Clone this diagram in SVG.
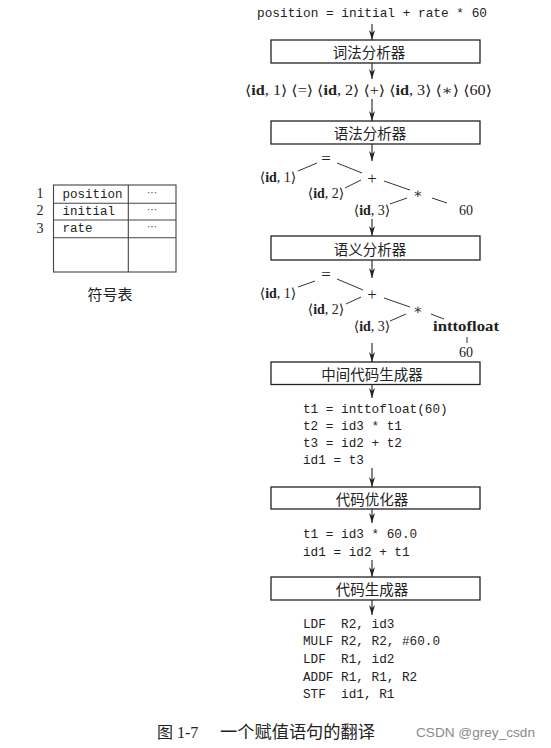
<svg xmlns="http://www.w3.org/2000/svg" width="551" height="748" viewBox="0 0 551 748">
<style>
.bg{fill:#fff}
.box rect{fill:#fff;stroke:#222;stroke-width:1.3}
.cn{font-family:"Noto Sans CJK SC",sans-serif;font-size:14.5px;fill:#222;text-anchor:middle;dominant-baseline:central}
.mono{font-family:"Liberation Mono","DejaVu Sans Mono",monospace;font-size:12.7px;fill:#222;white-space:pre}
.ser{font-family:"Liberation Serif","DejaVu Serif",serif;font-size:14px;fill:#222}
.op{font-size:17px}
.tn{text-anchor:middle}
.b{font-weight:bold}
.conn line{stroke:#222;stroke-width:1.1}
.tree line{stroke:#333;stroke-width:1}
.tab line,.tab rect{stroke:#444;stroke-width:1.1;fill:none}
</style>
<defs>
<marker id="ah" viewBox="0 0 10 6" refX="10" refY="3" markerWidth="10" markerHeight="6" markerUnits="userSpaceOnUse" orient="auto">
<path d="M0,0 L10,3 L0,6 L3,3 Z" fill="#222"/>
</marker>
</defs>
<rect class="bg" x="0" y="0" width="551" height="748"/>

<text id="source" class="mono" x="257" y="17" textLength="230" lengthAdjust="spacingAndGlyphs">position = initial + rate * 60</text>

<g id="lexer" class="box"><rect x="271" y="40" width="209" height="23"/><text class="cn" x="369" y="51.5">词法分析器</text></g>

<text id="tokens" class="ser" x="245" y="95" textLength="247" lengthAdjust="spacingAndGlyphs">⟨<tspan class="b">id</tspan>, 1⟩ ⟨=⟩ ⟨<tspan class="b">id</tspan>, 2⟩ ⟨+⟩ ⟨<tspan class="b">id</tspan>, 3⟩ ⟨∗⟩ ⟨60⟩</text>

<g id="parser" class="box"><rect x="271" y="121" width="209" height="23"/><text class="cn" x="370" y="132.5">语法分析器</text></g>

<g id="tree1" class="tree">
<text class="ser op tn" x="326" y="164">=</text>
<text class="ser tn" x="278" y="182">⟨<tspan class="b">id</tspan>, 1⟩</text>
<text class="ser op tn" x="372" y="184">+</text>
<text class="ser tn" x="326" y="198">⟨<tspan class="b">id</tspan>, 2⟩</text>
<text class="ser tn" x="418" y="198">∗</text>
<text class="ser tn" x="372" y="215">⟨<tspan class="b">id</tspan>, 3⟩</text>
<text class="ser tn" x="466" y="215">60</text>
<line x1="298" y1="171" x2="317" y2="163"/>
<line x1="337" y1="163" x2="362" y2="173"/>
<line x1="361" y1="180" x2="345" y2="188"/>
<line x1="384" y1="181" x2="410" y2="190"/>
<line x1="407" y1="198" x2="390" y2="204"/>
<line x1="432" y1="198" x2="447" y2="203"/>
</g>

<g id="semantic" class="box"><rect x="271" y="236" width="209" height="24"/><text class="cn" x="370" y="248">语义分析器</text></g>

<g id="tree2" class="tree">
<text class="ser op tn" x="326" y="280">=</text>
<text class="ser tn" x="278" y="298">⟨<tspan class="b">id</tspan>, 1⟩</text>
<text class="ser op tn" x="372" y="300">+</text>
<text class="ser tn" x="326" y="314">⟨<tspan class="b">id</tspan>, 2⟩</text>
<text class="ser tn" x="418" y="314">∗</text>
<text class="ser tn" x="372" y="331">⟨<tspan class="b">id</tspan>, 3⟩</text>
<text class="ser b" x="433" y="331" textLength="66" lengthAdjust="spacingAndGlyphs">inttofloat</text>
<text class="ser tn" x="466" y="357">60</text>
<line x1="298" y1="287" x2="315" y2="281"/>
<line x1="337" y1="279" x2="363" y2="290"/>
<line x1="361" y1="297" x2="346" y2="304"/>
<line x1="384" y1="298" x2="410" y2="307"/>
<line x1="406" y1="314" x2="390" y2="321"/>
<line x1="431" y1="314" x2="444" y2="319"/>
<line x1="467" y1="337" x2="467" y2="343"/>
</g>

<g id="icg" class="box"><rect x="271" y="362" width="209" height="22.5"/><text class="cn" x="372" y="373">中间代码生成器</text></g>

<g id="ir">
<text class="mono" x="303" y="413">t1 = inttofloat(60)</text>
<text class="mono" x="303" y="430">t2 = id3 * t1</text>
<text class="mono" x="303" y="446.5">t3 = id2 + t2</text>
<text class="mono" x="303" y="464">id1 = t3</text>
</g>

<g id="optimizer" class="box"><rect x="271" y="487" width="209" height="22"/><text class="cn" x="372" y="498">代码优化器</text></g>

<g id="opt-code">
<text class="mono" x="303" y="538">t1 = id3 * 60.0</text>
<text class="mono" x="303" y="556">id1 = id2 + t1</text>
</g>

<g id="codegen" class="box"><rect x="271" y="577" width="209" height="23"/><text class="cn" x="372" y="588.5">代码生成器</text></g>

<g id="target">
<text class="mono" x="303" y="628" xml:space="preserve">LDF  R2, id3</text>
<text class="mono" x="303" y="645" xml:space="preserve">MULF R2, R2, #60.0</text>
<text class="mono" x="303" y="663" xml:space="preserve">LDF  R1, id2</text>
<text class="mono" x="303" y="680.5" xml:space="preserve">ADDF R1, R1, R2</text>
<text class="mono" x="303" y="698" xml:space="preserve">STF  id1, R1</text>
</g>

<g id="connectors" class="conn">
<line x1="372" y1="24" x2="372" y2="40" marker-end="url(#ah)"/>
<line x1="372" y1="63" x2="372" y2="79" marker-end="url(#ah)"/>
<line x1="372" y1="99" x2="372" y2="121" marker-end="url(#ah)"/>
<line x1="372" y1="144" x2="372" y2="161" marker-end="url(#ah)"/>
<line x1="372" y1="219" x2="372" y2="236" marker-end="url(#ah)"/>
<line x1="372" y1="260" x2="372" y2="278" marker-end="url(#ah)"/>
<line x1="372" y1="343" x2="372" y2="362" marker-end="url(#ah)"/>
<line x1="372" y1="384.5" x2="372" y2="398" marker-end="url(#ah)"/>
<line x1="372" y1="468" x2="372" y2="487" marker-end="url(#ah)"/>
<line x1="372" y1="509" x2="372" y2="523" marker-end="url(#ah)"/>
<line x1="372" y1="560" x2="372" y2="577" marker-end="url(#ah)"/>
<line x1="372" y1="600" x2="372" y2="615" marker-end="url(#ah)"/>
</g>

<g id="symtab" class="tab">
<rect x="53.5" y="185" width="122.5" height="87"/>
<line x1="53.5" y1="203.3" x2="176" y2="203.3"/>
<line x1="53.5" y1="220" x2="176" y2="220"/>
<line x1="53.5" y1="237.7" x2="176" y2="237.7"/>
<line x1="128.3" y1="185" x2="128.3" y2="272"/>
<text class="ser tn" x="40" y="198" style="stroke:none">1</text>
<text class="ser tn" x="40" y="215" style="stroke:none">2</text>
<text class="ser tn" x="40" y="233" style="stroke:none">3</text>
<text class="mono" x="62.5" y="197.5" style="stroke:none;font-size:12.5px">position</text>
<text class="mono" x="62.5" y="214.5" style="stroke:none;font-size:12.5px">initial</text>
<text class="mono" x="62.5" y="232" style="stroke:none;font-size:12.5px">rate</text>
<text class="ser tn" x="152" y="196" style="stroke:none;font-size:10px">···</text>
<text class="ser tn" x="152" y="213" style="stroke:none;font-size:10px">···</text>
<text class="ser tn" x="152" y="230" style="stroke:none;font-size:10px">···</text>
<text class="cn" x="110" y="293" style="stroke:none;font-size:15px">符号表</text>
</g>

<g id="caption">
<text x="157" y="738" style="font-family:'Noto Sans CJK SC',sans-serif;font-size:16px;fill:#222">图</text>
<text x="177" y="738" style="font-family:'Liberation Serif',serif;font-size:16px;fill:#222">1-7</text>
<text x="220" y="738" textLength="155" lengthAdjust="spacingAndGlyphs" style="font-family:'Noto Sans CJK SC',sans-serif;font-size:17px;fill:#222">一个赋值语句的翻译</text>
<text x="416" y="737" textLength="119" lengthAdjust="spacingAndGlyphs" style="font-family:'Liberation Sans',sans-serif;font-size:13.5px;fill:#8a8a8a">CSDN @grey_csdn</text>
</g>
</svg>
